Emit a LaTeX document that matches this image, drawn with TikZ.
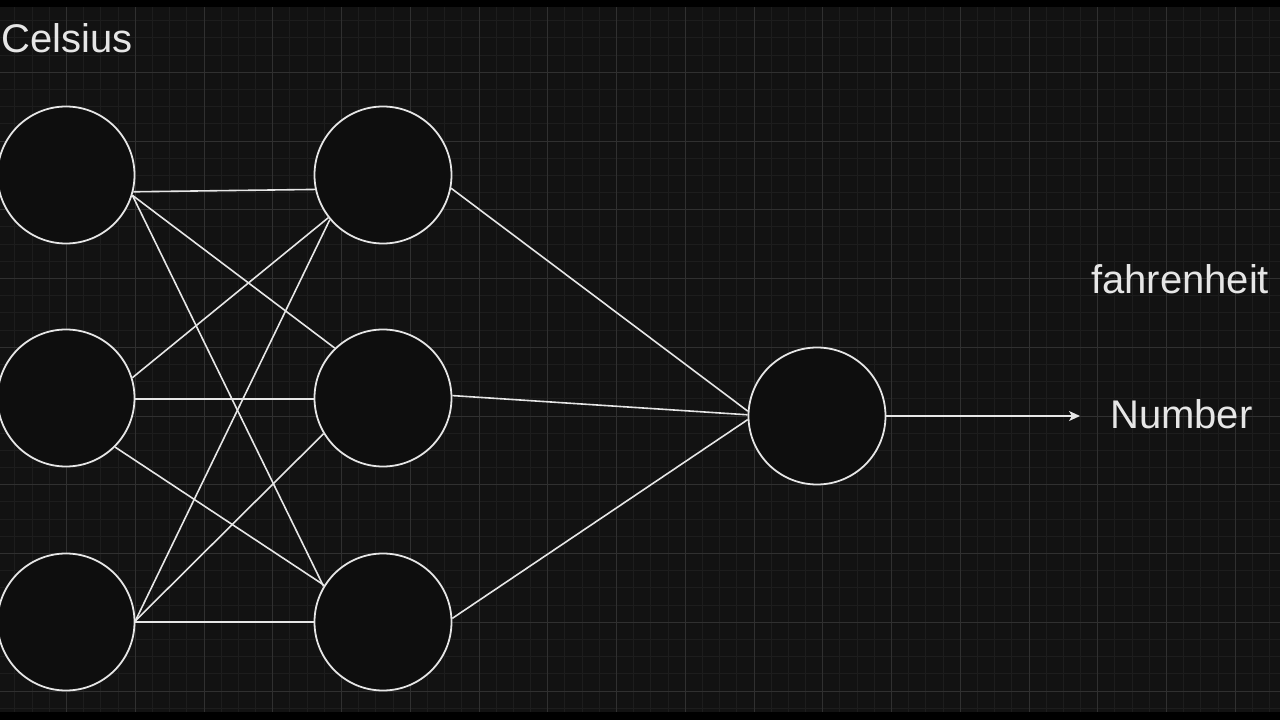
\documentclass[tikz,border=0pt]{standalone}
\usepackage{fontspec}
\setmainfont{Liberation Sans}
\usetikzlibrary{arrows.meta}
\definecolor{bg}{HTML}{121212}
\definecolor{minorg}{HTML}{1D1D1D}
\definecolor{majorg}{HTML}{303030}
\definecolor{ink}{HTML}{E6E6E6}
\definecolor{cfill}{HTML}{0E0E0E}
\begin{document}
\begin{tikzpicture}[x=1pt,y=-1pt,
  neuron/.style={circle,draw=ink,line width=1.8pt,fill=cfill,minimum size=137pt,inner sep=0pt},
  edge/.style={draw=ink,line width=1.6pt},
  minorline/.style={draw=minorg,line width=1pt},
  majorline/.style={draw=majorg,line width=1.4pt},
  lbl/.style={text=ink,font=\fontsize{40}{48}\selectfont,inner sep=0pt,anchor=base west}]
\useasboundingbox (0,0) rectangle (1280,720);
\fill[bg] (0,0) rectangle (1280,720);
% grid
\foreach \i in {0,...,75} {\pgfmathsetmacro\gx{round(-2.7+\i*17.1875)+0.5}
  \draw[minorline] (\gx,0) -- ++(0,720);}
\foreach \i in {0,...,42} {\pgfmathsetmacro\gy{round(3+\i*17.1875)+0.5}
  \draw[minorline] (0,\gy) -- ++(1280,0);}
\foreach \i in {0,...,19} {\pgfmathsetmacro\gx{round(-2.7+\i*68.75)+0.5}
  \draw[majorline] (\gx,0) -- ++(0,720);}
\foreach \i in {0,...,10} {\pgfmathsetmacro\gy{round(3+\i*68.75)+0.5}
  \draw[majorline] (0,\gy) -- ++(1280,0);}
% black bars
\fill[black] (0,0) rectangle (1280,7);
\fill[black] (0,712) rectangle (1280,720);
% neurons
\node[neuron] (i1) at (66,175) {};
\node[neuron] (i2) at (66,398) {};
\node[neuron] (i3) at (66,622) {};
\node[neuron] (h1) at (383,175) {};
\node[neuron] (h2) at (383,398) {};
\node[neuron] (h3) at (383,622) {};
\node[neuron] (o) at (817,416) {};
% connectors input -> hidden
\draw[edge] (i1.-14) -- (h1.192);
\draw[edge] (i1.-17.7) -- (h2.134.4);
\draw[edge] (i1.-17.7) -- (h3.149.6);
\draw[edge] (h1.218.7) -- (i2.17.9);
\draw[edge] (i2.-1.7) -- (h2.181);
\draw[edge] (i2.-45.6) -- (h3.148.8);
\draw[edge] (h1.220.9) -- (i3.1.7);
\draw[edge] (h2.211.8) -- (i3.1.7);
\draw[edge] (i3.0) -- (h3.180.8);
% hidden -> output
\draw[edge] (h1.-11.3) -- (o.176.7);
\draw[edge] (h2.2.5) -- (o.179);
\draw[edge] (h3.3.3) -- (o.183.3);
% output arrow
\coordinate (tip) at (1080,416);
\draw[edge,-{Stealth[length=11pt,width=10pt,inset=3pt]}] (o.east) -- (tip);
% labels
\node[lbl] (celsius) at (1,52) {Celsius};
\node[lbl] (fahr) at (1091,293) {fahrenheit};
\node[lbl] (num) at (1110,428) {Number};
\end{tikzpicture}
\end{document}
